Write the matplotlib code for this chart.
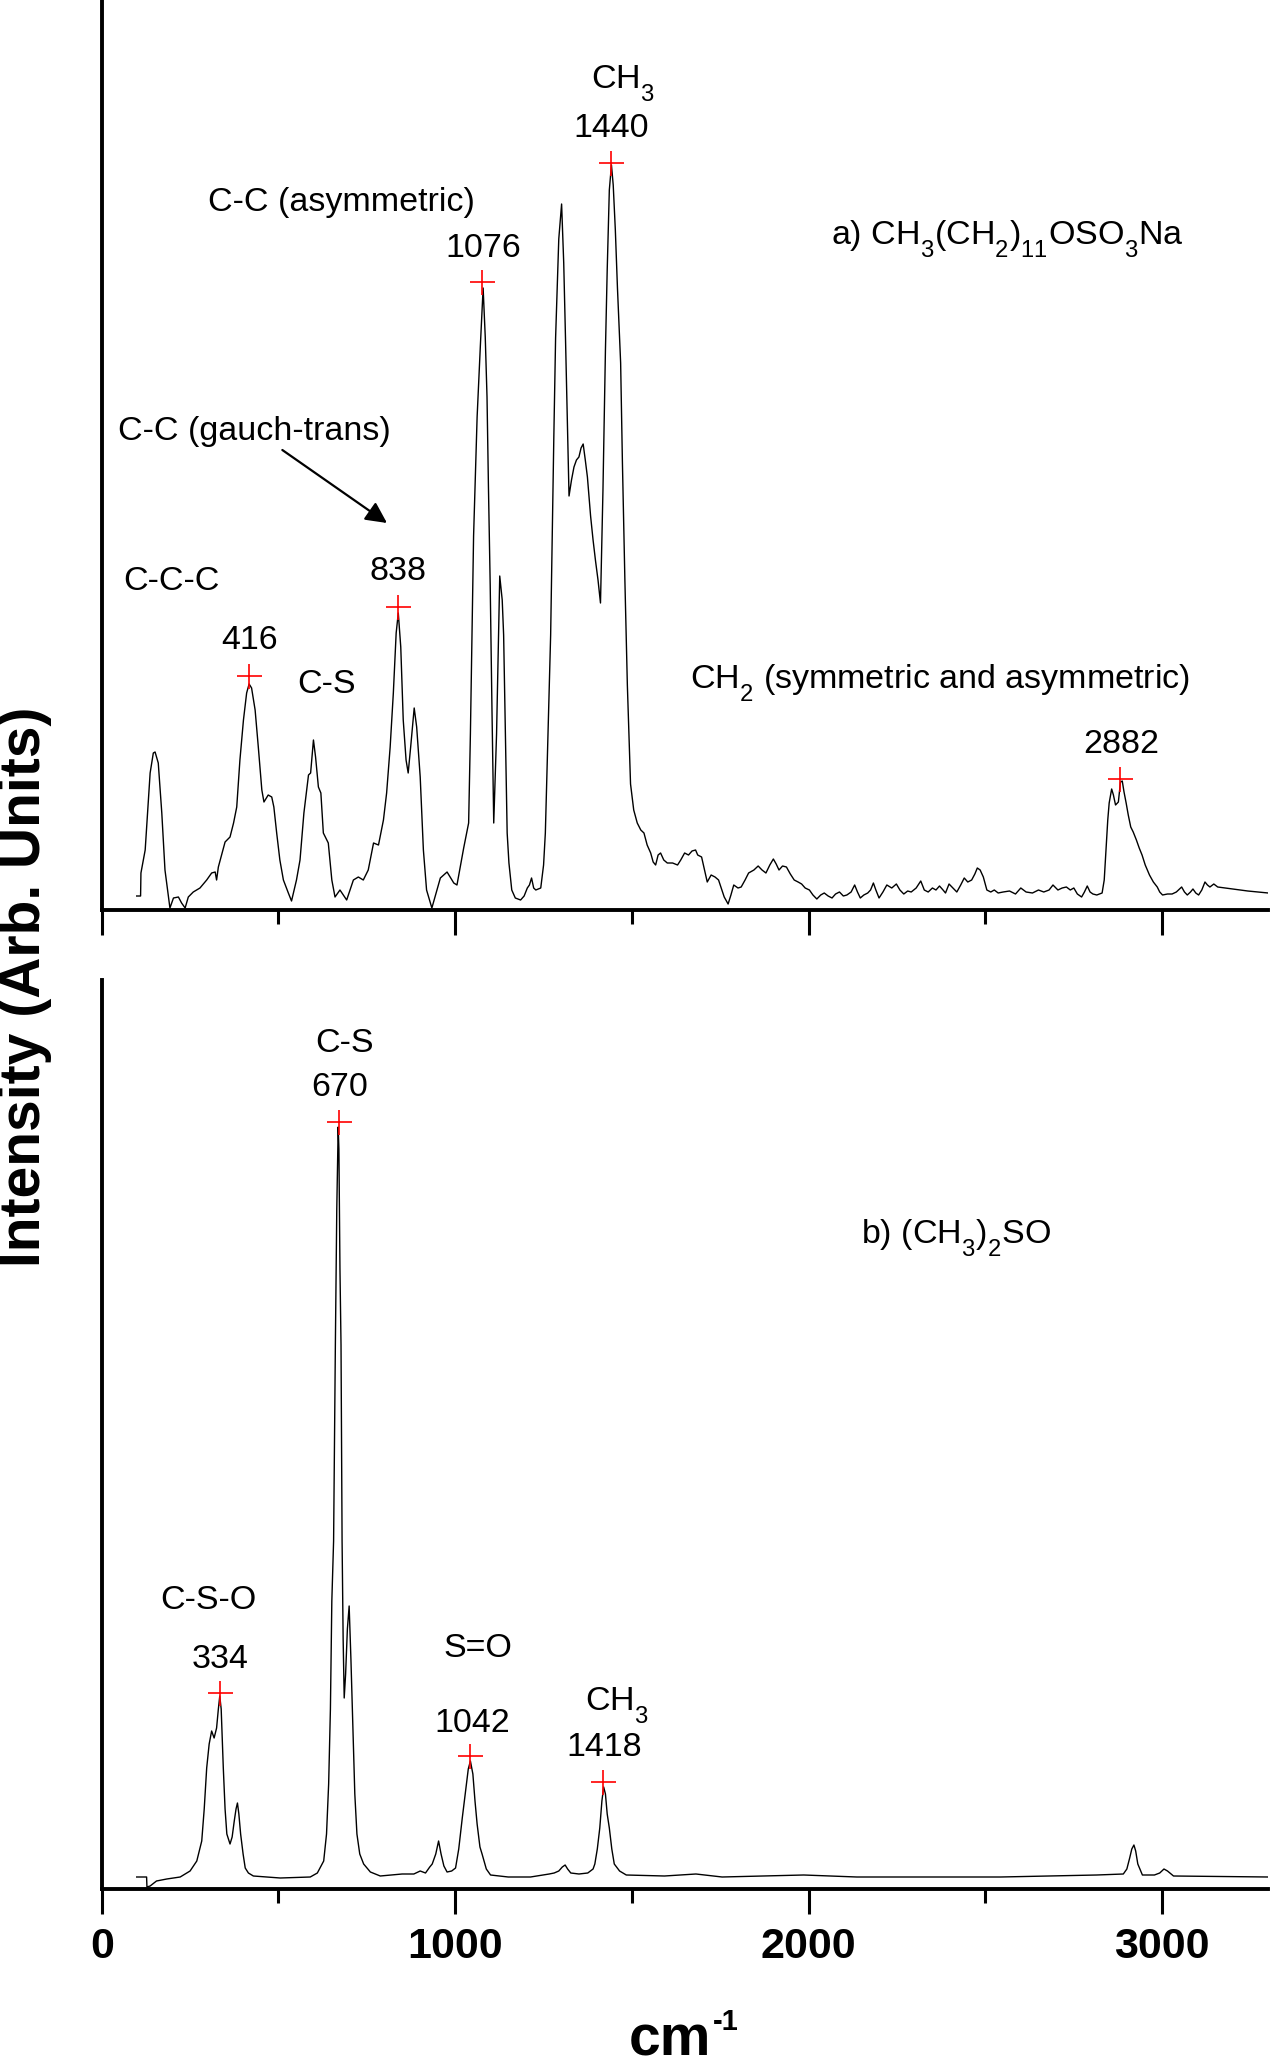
import numpy as np
import matplotlib
matplotlib.use('Agg')
import matplotlib.pyplot as plt
from matplotlib.ticker import MultipleLocator
import matplotlib._mathtext as mt

plt.rcParams['font.family'] = ['Liberation Sans', 'DejaVu Sans']
plt.rcParams['mathtext.fontset'] = 'custom'
plt.rcParams['mathtext.rm'] = 'Liberation Sans'
plt.rcParams['mathtext.it'] = 'Liberation Sans:italic'
plt.rcParams['mathtext.bf'] = 'Liberation Sans:bold'
# subscripts sit lower in the original figure
mt.FontConstantsBase.sub1 = 0.75

# a) CH3(CH2)11OSO3Na  -- raman shift (cm-1) / intensity (arb.)
top_wn = [99, 110, 111, 123, 137, 146, 151, 160, 170, 179, 193, 203, 217, 226, 236, 245, 259, 278,
          297, 311, 321, 325, 330, 349, 363, 373, 382, 391, 401, 410, 417, 424, 434, 443, 453, 459,
          471, 481, 487, 495, 504, 514, 528, 537, 551, 561, 572, 585, 591, 599, 605, 613, 620, 627,
          641, 651, 660, 674, 693, 712, 726, 740, 754, 769, 783, 797, 806, 816, 825, 833, 839, 846,
          853, 861, 867, 874, 884, 891, 901, 910, 919, 934, 958, 977, 996, 1005, 1024, 1038, 1043,
          1052, 1062, 1071, 1079, 1085, 1090, 1094, 1099, 1104, 1109, 1117, 1126, 1133, 1137, 1142,
          1147, 1152, 1160, 1170, 1185, 1195, 1204, 1210, 1216, 1222, 1228, 1242, 1250, 1255, 1262,
          1270, 1279, 1284, 1293, 1301, 1307, 1312, 1322, 1329, 1336, 1343, 1350, 1356, 1362, 1368,
          1374, 1383, 1390, 1397, 1404, 1411, 1418, 1425, 1430, 1436, 1442, 1447, 1453, 1459, 1468,
          1473, 1480, 1487, 1496, 1505, 1515, 1525, 1534, 1543, 1553, 1560, 1567, 1574, 1581, 1590,
          1600, 1615, 1629, 1638, 1649, 1660, 1670, 1680, 1686, 1697, 1713, 1724, 1735, 1745, 1761,
          1772, 1780, 1788, 1800, 1809, 1820, 1830, 1845, 1857, 1868, 1879, 1890, 1900, 1908, 1916,
          1926, 1937, 1948, 1959, 1970, 1980, 1990, 2002, 2012, 2023, 2034, 2044, 2055, 2066, 2076,
          2087, 2098, 2108, 2120, 2130, 2138, 2146, 2156, 2167, 2175, 2183, 2190, 2199, 2210, 2221,
          2235, 2248, 2258, 2269, 2280, 2290, 2304, 2317, 2327, 2338, 2350, 2360, 2370, 2380, 2387,
          2397, 2408, 2419, 2430, 2440, 2450, 2461, 2470, 2477, 2485, 2494, 2504, 2515, 2525, 2536,
          2550, 2568, 2585, 2600, 2615, 2633, 2650, 2665, 2680, 2691, 2705, 2717, 2729, 2740, 2750,
          2760, 2772, 2780, 2788, 2796, 2804, 2815, 2830, 2836, 2841, 2846, 2850, 2857, 2862, 2868,
          2876, 2882, 2887, 2892, 2898, 2904, 2911, 2918, 2927, 2935, 2943, 2952, 2964, 2975, 2986,
          2993, 3001, 3015, 3028, 3040, 3055, 3063, 3071, 3080, 3087, 3095, 3103, 3112, 3121, 3128,
          3135, 3146, 3157, 3200, 3242, 3300]
top_int = [14, 14, 37, 60, 137, 157, 158, 147, 97, 40, 2, 12, 13, 7, 2, 13, 18, 22,
           30, 37, 38, 30, 43, 68, 73, 87, 103, 150, 190, 217, 226, 222, 200, 163, 120, 108,
           115, 113, 103, 77, 50, 30, 17, 9, 30, 50, 97, 135, 137, 170, 153, 123, 117, 77,
           67, 30, 13, 20, 10, 30, 33, 30, 40, 67, 65, 90, 117, 163, 217, 277, 297, 263,
           190, 150, 137, 163, 202, 183, 133, 60, 20, 2, 32, 38, 27, 25, 62, 87, 176,
           374, 493, 563, 622, 573, 513, 424, 325, 201, 87, 176, 334, 310, 275, 176,
           77, 47, 20, 12, 10, 14, 22, 25, 32, 22, 20, 22, 45, 77, 170,
           275, 473, 572, 671, 706, 647, 572, 414, 430, 443, 450, 453, 462, 466, 450,
           433, 394, 370, 349, 330, 307, 420, 560, 640, 720, 745, 725, 680, 622, 547,
           448, 330, 225, 126, 100, 87, 80, 77, 65, 57, 48, 45, 55, 57, 50,
           47, 47, 45, 50, 57, 55, 59, 60, 55, 53, 28, 35, 33, 30, 13,
           6, 15, 25, 22, 23, 30, 37, 40, 44, 40, 37, 45, 51, 46, 40,
           44, 43, 36, 30, 28, 26, 22, 20, 15, 11, 15, 17, 14, 12, 16,
           18, 14, 15, 18, 25, 18, 12, 15, 17, 20, 27, 20, 12, 18, 25,
           22, 26, 20, 16, 19, 18, 22, 29, 20, 18, 22, 20, 24, 20, 17,
           26, 22, 18, 25, 32, 28, 30, 36, 42, 40, 33, 20, 18, 20, 17,
           18, 19, 16, 22, 18, 17, 20, 18, 20, 25, 20, 22, 23, 20, 22,
           16, 13, 18, 24, 18, 16, 15, 17, 30, 60, 90, 107, 121, 115, 105,
           108, 128, 129, 118, 107, 95, 83, 78, 70, 62, 55, 45, 35, 28, 23,
           18, 15, 16, 16, 18, 23, 18, 15, 18, 21, 17, 15, 20, 28, 25,
           23, 26, 23, 21, 19, 17]

# b) (CH3)2SO
bot_wn = [99, 127, 128, 137, 155, 184, 222, 250, 269, 283, 290, 297, 304, 311, 318, 325, 330, 334,
          338, 344, 349, 354, 363, 369, 375, 380, 384, 388, 393, 400, 406, 415, 429, 505, 590, 610,
          628, 636, 642, 647, 651, 656, 661, 665, 669, 671, 674, 677, 680, 683, 686, 690, 695, 700,
          705, 711, 716, 722, 730, 741, 760, 788, 850, 883, 901, 916, 928, 935, 945, 953, 960, 968,
          977, 990, 1001, 1010, 1020, 1030, 1037, 1043, 1050, 1056, 1062, 1070, 1076, 1088, 1100,
          1150, 1213, 1266, 1280, 1293, 1303, 1311, 1318, 1327, 1350, 1375, 1390, 1395, 1402, 1409,
          1415, 1420, 1425, 1430, 1436, 1443, 1450, 1465, 1484, 1592, 1681, 1755, 1986, 2136, 2543,
          2815, 2890, 2900, 2908, 2914, 2920, 2925, 2931, 2944, 2978, 2993, 3005, 3015, 3032, 3300]
bot_int = [12, 12, 2, 3, 8, 10, 12, 18, 28, 48, 80, 121, 145, 158, 151, 161, 180, 193,
           180, 121, 80, 55, 45, 52, 68, 80, 86, 75, 55, 35, 21, 16, 13, 11, 12, 16,
           28, 55, 105, 180, 288, 348, 544, 680, 762, 740, 620, 544, 348, 250, 191, 215, 260, 283,
           230, 155, 95, 55, 35, 25, 17, 13, 15, 15, 18, 16, 22, 25, 35, 48, 35, 23,
           17, 18, 21, 40, 71, 100, 120, 128, 115, 88, 65, 42, 35, 20, 14,
           12, 12, 15, 16, 18, 22, 24, 20, 16, 15, 16, 20, 25, 40, 61,
           88, 102, 95, 75, 61, 40, 25, 18, 14, 13, 15, 12, 14, 12, 12,
           14, 15, 20, 31, 40, 44, 38, 25, 14, 14, 16, 20, 18, 13, 12]

# marked peaks (red crosses)
top_peaks = [416, 838, 1076, 1440, 2882]
top_peak_int = [234, 303, 628, 747, 131]
bot_peaks = [334, 670, 1042, 1418]
bot_peak_int = [196, 767, 133, 107]

# annotation texts: (text, x, y, ha)
top_labels = [
    ('CH$_3$', 1475, 821, 'center'),
    ('1440', 1440, 773, 'center'),
    ('C-C (asymmetric)', 678, 699, 'center'),
    ('1076', 1078, 653, 'center'),
    ('a) CH$_3$(CH$_2$)$_{11}$OSO$_3$Na', 2064, 666, 'left'),
    ('C-C (gauch-trans)', 431, 470, 'center'),
    ('C-C-C', 198, 320, 'center'),
    ('838', 839, 330, 'center'),
    ('416', 418, 261, 'center'),
    ('C-S', 636, 217, 'center'),
    ('CH$_2$ (symmetric and asymmetric)', 1663, 221, 'left'),
    ('2882', 2883, 157, 'center'),
]
bot_labels = [
    ('C-S', 688, 837, 'center'),
    ('670', 673, 793, 'center'),
    ('b) (CH$_3$)$_2$SO', 2149, 646, 'left'),
    ('C-S-O', 301, 280, 'center'),
    ('334', 334, 221, 'center'),
    ('S=O', 1064, 232, 'center'),
    ('1042', 1047, 157, 'center'),
    ('CH$_3$', 1458, 178, 'center'),
    ('1418', 1421, 133, 'center'),
]

W, H = 1272, 2069
fig = plt.figure(figsize=(W / 100, H / 100), dpi=100)

left = 101.7 / W
width = 3300 * 0.3535 / W
ax1 = fig.add_axes([left, 1 - 910 / H, width, 910 / H])
ax2 = fig.add_axes([left, 1 - 1889 / H, width, 909 / H])

for ax, wn, inten, pk, pki, labels, ytop in [
        (ax1, top_wn, top_int, top_peaks, top_peak_int, top_labels, 910),
        (ax2, bot_wn, bot_int, bot_peaks, bot_peak_int, bot_labels, 909)]:
    ax.plot(wn, inten, color='black', lw=1.0)
    ax.plot(pk, pki, ls='none', marker='+', ms=18, mew=1.2, color='red')
    for txt, x, y, ha in labels:
        ax.text(x, y, txt, ha=ha, va='baseline', fontsize=24.5)
    ax.set_xlim(0, 3300)
    ax.set_ylim(0, ytop)
    ax.spines['top'].set_visible(False)
    ax.spines['right'].set_visible(False)
    ax.spines['left'].set_linewidth(2.8)
    ax.spines['bottom'].set_linewidth(2.8)
    ax.set_yticks([])
    ax.xaxis.set_major_locator(MultipleLocator(1000))
    ax.xaxis.set_minor_locator(MultipleLocator(500))
    ax.tick_params(axis='x', which='major', direction='out', length=18, width=2.2, pad=9)
    ax.tick_params(axis='x', which='minor', direction='out', length=10, width=2.2)

ax1.tick_params(axis='x', labelbottom=False)
for lab in ax2.get_xticklabels():
    lab.set_fontsize(31)
    lab.set_fontweight('bold')

ax1.annotate('', xy=(807, 387), xytext=(511, 460),
             arrowprops=dict(arrowstyle='-|>', lw=1.6, color='black', mutation_scale=32,
                             shrinkA=0, shrinkB=0))

fig.text(25 / W, 1 - 987 / H, 'Intensity (Arb. Units)', rotation=90, ha='center', va='center',
         fontsize=41, fontweight='bold')
# x label: "cm" with a small "-1" superscript
fig.text(629 / W, 1 - 2055 / H, 'cm', ha='left', va='baseline', fontsize=41, fontweight='bold')
fig.text(713 / W, 1 - 2030 / H, '-1', ha='left', va='baseline', fontsize=21, fontweight='bold')

fig.savefig('out.png', dpi=100)
